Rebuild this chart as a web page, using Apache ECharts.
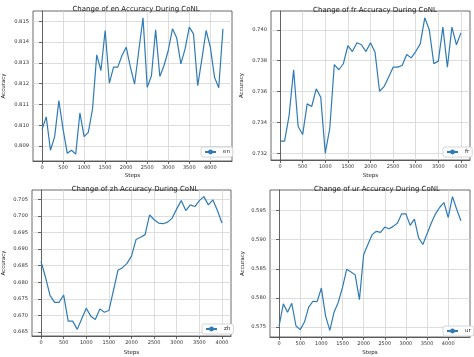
<!DOCTYPE html>
<html>
<head>
<meta charset="utf-8">
<script src="https://cdn.jsdelivr.net/npm/echarts@6/dist/echarts.min.js"></script>
<style>html,body{margin:0;padding:0;background:#fff}#c{width:474px;height:357px}</style>
</head>
<body>
<div id="c"></div>
<script>
const stepsLong = [0,100,200,300,400,500,600,700,800,900,1000,1100,1200,1300,1400,1500,1600,1700,1800,1900,2000,2100,2200,2300,2400,2500,2600,2700,2800,2900,3000,3100,3200,3300,3400,3500,3600,3700,3800,3900,4000,4100,4200,4300];
const stepsShort = [0,100,200,300,400,500,600,700,800,900,1000,1100,1200,1300,1400,1500,1600,1700,1800,1900,2000,2100,2200,2300,2400,2500,2600,2700,2800,2900,3000,3100,3200,3300,3400,3500,3600,3700,3800,3900,4000];

const enAcc = [0.8098,0.8104,0.8088,0.80945,0.81118,0.8098,0.80865,0.8088,0.80861,0.81059,0.80945,0.80966,0.81078,0.81338,0.81263,0.81455,0.81202,0.81279,0.81279,0.81335,0.81375,0.81279,0.81198,0.81359,0.81516,0.81182,0.81238,0.81458,0.81234,0.81287,0.81359,0.81463,0.8142,0.81295,0.81367,0.81471,0.81439,0.8119,0.81319,0.81455,0.81375,0.8123,0.8118,0.81463];
const frAcc = [0.73278,0.73278,0.73444,0.73741,0.73373,0.73321,0.7352,0.73503,0.73617,0.73563,0.732,0.73362,0.73775,0.73741,0.7378,0.73898,0.73859,0.73916,0.73903,0.73859,0.73916,0.73855,0.73602,0.73632,0.73693,0.73758,0.73758,0.73769,0.7384,0.73818,0.73859,0.73909,0.74078,0.740,0.7378,0.73797,0.74017,0.73758,0.74017,0.73903,0.7398];
const zhAcc = [0.68619,0.68142,0.67595,0.67396,0.67396,0.67614,0.66828,0.66828,0.6658,0.66898,0.67216,0.66978,0.66878,0.67197,0.67097,0.67147,0.67744,0.68361,0.6844,0.6857,0.68789,0.69286,0.69356,0.69435,0.70032,0.69883,0.69784,0.69764,0.69813,0.69933,0.70211,0.7046,0.70162,0.70331,0.70281,0.7046,0.7058,0.70331,0.7048,0.70162,0.69784];
const urAcc = [0.57517,0.57897,0.57755,0.57908,0.57517,0.57455,0.57585,0.5784,0.57942,0.57936,0.58169,0.57687,0.57443,0.57755,0.57925,0.5818,0.58492,0.58446,0.58395,0.5797,0.58746,0.58916,0.59086,0.59143,0.59126,0.59217,0.59188,0.59228,0.59285,0.59443,0.59443,0.59245,0.59353,0.5903,0.58916,0.59103,0.59285,0.59443,0.59557,0.59636,0.59381,0.59738,0.59523,0.59324];

const xTicks = [0,500,1000,1500,2000,2500,3000,3500,4000];
const enTicks = [0.809,0.810,0.811,0.812,0.813,0.814,0.815];
const frTicks = [0.732,0.734,0.736,0.738,0.740];
const zhTicks = [0.665,0.670,0.675,0.680,0.685,0.690,0.695,0.700,0.705];
const urTicks = [0.575,0.580,0.585,0.590,0.595];

const langs = ['en','fr','zh','ur'];
const titles = ['Change of en Accuracy During CoNL','Change of fr Accuracy During CoNL','Change of zh Accuracy During CoNL','Change of ur Accuracy During CoNL'];

const panels = [
  {steps: stepsLong, vals: enAcc, yt: enTicks, grid:{left:30,top:11,width:202,height:150}, tx:131, ty:1, yGap:26, xGap:12, lg:{left:201,top:147}},
  {steps: stepsShort, vals: frAcc, yt: frTicks, grid:{left:271,top:11,width:199,height:149}, tx:370, ty:2, yGap:26, xGap:13, lg:{left:443,top:147}},
  {steps: stepsShort, vals: zhAcc, yt: zhTicks, grid:{left:29,top:190,width:202,height:147}, tx:130, ty:181, yGap:25, xGap:14, lg:{left:202,top:324}},
  {steps: stepsLong, vals: urAcc, yt: urTicks, grid:{left:270,top:190,width:200,height:150}, tx:372, ty:181, yGap:24, xGap:13, lg:{left:443,top:326}}
];

function pad(arr){
  const mn = Math.min(...arr), mx = Math.max(...arr), r = mx - mn;
  return [mn - 0.05*r, mx + 0.05*r];
}

const spine = '#444';
const gridC = '#d6d6d6';
const opt = {grid:[], xAxis:[], yAxis:[], series:[], title:[], legend:[], animation:false};

panels.forEach((p,i)=>{
  const xr = pad(p.steps), yr = pad(p.vals);
  opt.grid.push(Object.assign({show:true, borderColor:spine, borderWidth:0.8, backgroundColor:'#fff'}, p.grid));
  opt.xAxis.push({
    type:'value', gridIndex:i, min:xr[0], max:xr[1],
    name:'Steps', nameLocation:'middle', nameGap:p.xGap,
    nameTextStyle:{fontFamily:'DejaVu Sans', fontSize:5.5, color:'#222'},
    axisLine:{show:true, lineStyle:{color:spine, width:0.8}},
    axisTick:{show:true, customValues:xTicks, length:3, lineStyle:{color:spine, width:0.8}},
    axisLabel:{customValues:xTicks, margin:4, fontFamily:'DejaVu Sans', fontSize:5, color:'#333',
      formatter:v=>String(Math.round(v))},
    splitLine:{show:true, lineStyle:{color:gridC, width:0.8}}
  });
  opt.yAxis.push({
    type:'value', gridIndex:i, min:yr[0], max:yr[1],
    name:'Accuracy', nameLocation:'middle', nameGap:p.yGap,
    nameTextStyle:{fontFamily:'DejaVu Sans', fontSize:5.5, color:'#222'},
    axisLine:{show:true, lineStyle:{color:spine, width:0.8}},
    axisTick:{show:true, customValues:p.yt, length:3, lineStyle:{color:spine, width:0.8}},
    axisLabel:{customValues:p.yt, margin:4, fontFamily:'DejaVu Sans', fontSize:5.2, color:'#333',
      formatter:v=>v.toFixed(3)},
    splitLine:{show:true, lineStyle:{color:gridC, width:0.8}}
  });
  opt.series.push({
    type:'line', name:langs[i], xAxisIndex:i, yAxisIndex:i,
    data:p.steps.map((s,k)=>[s,p.vals[k]]),
    symbol:'none', lineStyle:{color:'#2f7bb6', width:1.2}, itemStyle:{color:'#2f7bb6'}
  });
  opt.title.push({
    text:titles[i], left:p.tx, top:p.ty, textAlign:'center',
    textStyle:{fontFamily:'DejaVu Sans', fontSize:7, fontWeight:'normal', color:'#222'}
  });
  opt.legend.push(Object.assign({
    data:[langs[i]], orient:'horizontal', itemWidth:11, itemHeight:6, itemGap:2,
    padding:[2,3,2,3], borderColor:'#ccc', borderWidth:0.8, borderRadius:2, backgroundColor:'#fff',
    textStyle:{fontFamily:'DejaVu Sans', fontSize:5.5, color:'#222', padding:[0,0,0,2]}
  }, p.lg));
});

const chart = echarts.init(document.getElementById('c'), null, {renderer:'canvas'});
chart.setOption(opt);
</script>
</body>
</html>
